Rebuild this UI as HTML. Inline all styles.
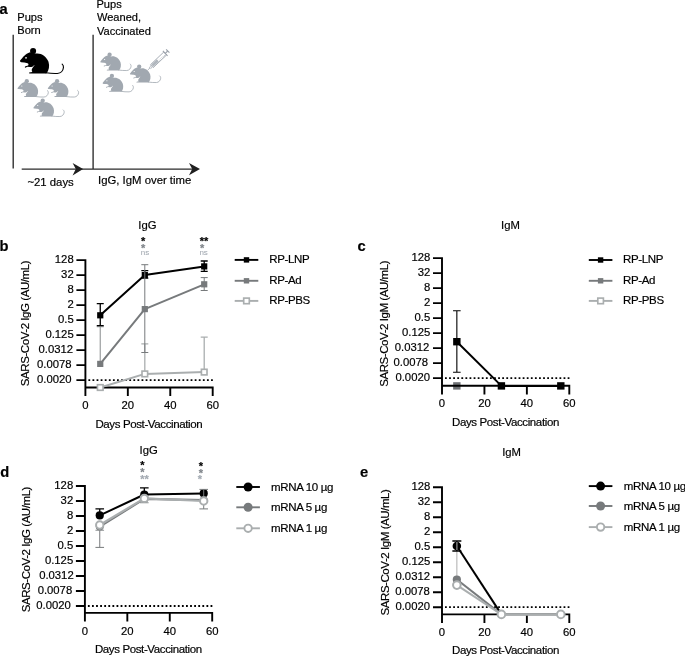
<!DOCTYPE html>
<html lang="en"><head><meta charset="utf-8"><title>Figure</title>
<style>html,body{margin:0;padding:0;background:#fff}svg{display:block;font-family:"Liberation Sans",Arial,Helvetica,sans-serif}text{stroke:#000;stroke-width:.18px}</style>
</head><body>
<svg width="685" height="657" viewBox="0 0 685 657">
<rect width="685" height="657" fill="#fff"/>
<text x="-0.4" y="13.8" font-size="14.7" font-weight="bold">a</text>
<text x="17.3" y="20.8" font-size="11.1">Pups</text>
<text x="17.3" y="34.3" font-size="11.1">Born</text>
<text x="96.4" y="7.7" font-size="11.1">Pups</text>
<text x="96.9" y="21.4" font-size="11.1">Weaned,</text>
<text x="96.9" y="34.8" font-size="11.1">Vaccinated</text>
<g stroke="#2b2b2b" stroke-width="1.35" fill="none">
<path d="M13.2 34.8V168.4M93.1 34.8V169.1M21.7 169.1H192"/>
</g>
<path fill="#1f1f1f" d="M83.1 169.1L72.6 162.9L75.8 169.1L72.6 175.4ZM200 169.1L189 162.9L192.2 169.1L189 175.3Z"/>
<text x="27.4" y="185.7" font-size="11.35">~21 days</text>
<text x="98.0" y="183.7" font-size="11.35">IgG, IgM over time</text>
<defs><g id="mouse"><path d="M52 222C70 200 90 172 110 155C128 135 152 118 185 108L262 125C330 115 400 160 428 235C445 290 435 350 400 388L175 388L172 376C185 370 200 368 215 368C205 350 205 335 215 320C225 305 238 292 245 278L240 275C225 295 205 305 185 304L150 300C140 305 132 312 125 312C113 310 113 298 125 292L160 283L165 264C150 250 130 246 110 244L70 240C58 238 50 230 52 222Z"/><circle cx="225" cy="92" r="40"/><circle cx="132" cy="182" r="11" fill="#fff"/><path d="M395 379C440 386 500 390 545 388C590 385 620 350 625 310C627 290 620 275 608 265" fill="none" stroke-width="15" stroke-linecap="round" stroke="currentColor"/></g></defs>
<use href="#mouse" transform="translate(16,44) scale(0.07593)" fill="#000" color="#000"/>
<use href="#mouse" transform="translate(14.71,76.21) scale(0.0537)" fill="#a1a8b0" color="#a1a8b0"/>
<use href="#mouse" transform="translate(45.01,76.21) scale(0.0537)" fill="#a1a8b0" color="#a1a8b0"/>
<use href="#mouse" transform="translate(30.61,95.71) scale(0.0537)" fill="#a1a8b0" color="#a1a8b0"/>
<use href="#mouse" transform="translate(97.51,49.71) scale(0.0537)" fill="#a1a8b0" color="#a1a8b0"/>
<use href="#mouse" transform="translate(99.81,71.01) scale(0.0537)" fill="#a1a8b0" color="#a1a8b0"/>
<use href="#mouse" transform="translate(127.11,61.71) scale(0.0537)" fill="#a1a8b0" color="#a1a8b0"/>
<g transform="translate(147.7,70.1) rotate(-43.6)" stroke="#9aa1aa" fill="none" stroke-width="0.7">
<path d="M0 0H5.8"/>
<rect x="3.3" y="-0.9" width="2.5" height="1.8" fill="#fff"/>
<rect x="5.8" y="-2" width="18.4" height="4" fill="#fff" stroke-width="0.8"/>
<rect x="6.4" y="-1.5" width="7.6" height="3" fill="#b0b6bd" stroke="none"/>
<path d="M15.5 2V0.4M17.2 2V0.4M18.9 2V0.4M20.6 2V0.4M22.3 2V0.4" stroke-width="0.55"/>
<path d="M24.2 -3.4V3.4M27.7 -2.4V2.4" stroke-width="1.1"/>
<path d="M24.2 0H27.7" stroke-width="1.1"/>
</g>
<text x="-0.6" y="250.5" font-size="14.7" font-weight="bold">b</text>
<text x="147.45" y="229.0" font-size="11.3" text-anchor="middle">IgG</text>
<text transform="translate(29.3,323.3) rotate(-90)" x="-62.85" y="0.00" font-size="11.5" textLength="125.70" lengthAdjust="spacing">SARS-CoV-2 IgG (AU/mL)</text>
<text x="73.7" y="263.35" font-size="11.3" text-anchor="end">128</text>
<text x="73.7" y="278.35" font-size="11.3" text-anchor="end">32</text>
<text x="73.7" y="293.35" font-size="11.3" text-anchor="end">8</text>
<text x="73.7" y="308.35" font-size="11.3" text-anchor="end">2</text>
<text x="73.7" y="323.35" font-size="11.3" text-anchor="end">0.5</text>
<text x="73.7" y="338.35" font-size="11.3" text-anchor="end">0.125</text>
<text x="73.1" y="353.35" font-size="11.3" text-anchor="end">0.0312</text>
<text x="71.6" y="368.35" font-size="11.3" text-anchor="end">0.0078</text>
<text x="71.6" y="383.35" font-size="11.3" text-anchor="end">0.0020</text>
<text x="85.4" y="409.0" font-size="11.3" text-anchor="middle">0</text>
<text x="127.83" y="409.0" font-size="11.3" text-anchor="middle">20</text>
<text x="170.27" y="409.0" font-size="11.3" text-anchor="middle">40</text>
<text x="212.7" y="409.0" font-size="11.3" text-anchor="middle">60</text>
<text x="95.38" y="427.90" font-size="11.5" textLength="107.34" lengthAdjust="spacing">Days Post-Vaccination</text>
<g stroke="#000" stroke-width="1.9" fill="none">
<path d="M85.4 259.15V388.45M84.45 387.5H213.65M76.40 260.10H85.4M76.40 275.10H85.4M76.40 290.10H85.4M76.40 305.10H85.4M76.40 320.10H85.4M76.40 335.10H85.4M76.40 350.10H85.4M76.40 365.10H85.4M76.40 380.10H85.4M85.40 387.5V396.10M127.83 387.5V396.10M170.27 387.5V396.10M212.70 387.5V396.10"/>
</g>
<path d="M88.40 380.10H213.60" stroke="#000" stroke-width="1.8" stroke-dasharray="1.8 2.288" fill="none"/>
<path d="M144.81 343.80V373.90M141.31 343.80H148.31" stroke="#aaaeaf" stroke-width="1.3" fill="none"/>
<path d="M204.21 337.10V372.10M200.71 337.10H207.71" stroke="#aaaeaf" stroke-width="1.3" fill="none"/>
<path d="M100.25 387.50L144.81 373.90L204.21 372.10" stroke="#aaaeaf" stroke-width="2.0" fill="none" stroke-linejoin="round"/>
<path d="M100.25 326.70V363.90M96.75 326.70H103.75" stroke="#9b9e9f" stroke-width="1.2" fill="none"/>
<path d="M204.21 277.60V290.50M200.71 277.60H207.71M200.71 290.50H207.71" stroke="#777a7c" stroke-width="1.0" fill="none"/>
<path d="M100.25 363.90L144.81 309.10L204.21 284.30" stroke="#777a7c" stroke-width="2.0" fill="none" stroke-linejoin="round"/>
<rect x="97.15" y="360.80" width="6.2" height="6.2" fill="#777a7c"/>
<rect x="141.71" y="306.00" width="6.2" height="6.2" fill="#777a7c"/>
<rect x="201.11" y="281.20" width="6.2" height="6.2" fill="#777a7c"/>
<path d="M100.25 303.60V325.70M96.75 303.60H103.75M96.75 325.70H103.75" stroke="#000" stroke-width="1.3" fill="none"/>
<path d="M144.81 270.60V278.20M141.31 270.60H148.31M141.31 278.20H148.31" stroke="#000" stroke-width="1.3" fill="none"/>
<path d="M204.21 261.00V271.40M200.71 261.00H207.71M200.71 271.40H207.71" stroke="#000" stroke-width="1.3" fill="none"/>
<path d="M100.25 315.30L144.81 275.10L204.21 266.40" stroke="#000" stroke-width="2.0" fill="none" stroke-linejoin="round"/>
<rect x="97.15" y="312.20" width="6.2" height="6.2" fill="#000"/>
<rect x="141.71" y="272.00" width="6.2" height="6.2" fill="#000"/>
<rect x="201.11" y="263.30" width="6.2" height="6.2" fill="#000"/>
<path d="M144.81 264.70V352.50M141.31 264.70H148.31M141.31 352.50H148.31" stroke="#777a7c" stroke-width="1.0" fill="none"/>
<rect x="97.45" y="384.70" width="5.6" height="5.6" fill="#fff" stroke="#aaaeaf" stroke-width="1.65"/>
<rect x="142.01" y="371.10" width="5.6" height="5.6" fill="#fff" stroke="#aaaeaf" stroke-width="1.65"/>
<rect x="201.41" y="369.30" width="5.6" height="5.6" fill="#fff" stroke="#aaaeaf" stroke-width="1.65"/>
<text x="141.1" y="244.8" font-size="11" font-weight="bold">*</text>
<text x="141.1" y="252.4" font-size="11" font-weight="bold" fill="#7f848a" style="stroke:#7f848a">*</text>
<text x="140.7" y="255.0" font-size="8" fill="#a3aab2" style="stroke:#a3aab2;stroke-width:0.05px">ns</text>
<text x="199.8" y="244.8" font-size="11" font-weight="bold">**</text>
<text x="200.0" y="252.4" font-size="11" font-weight="bold" fill="#7f848a" style="stroke:#7f848a">*</text>
<text x="199.4" y="255.0" font-size="8" fill="#a3aab2" style="stroke:#a3aab2;stroke-width:0.05px">ns</text>
<path d="M234.7 259.9H258.3" stroke="#000" stroke-width="1.9"/>
<rect x="243.80" y="257.20" width="5.4" height="5.4" fill="#000"/>
<text x="269.30" y="263.20" font-size="11.5" textLength="40.34" lengthAdjust="spacing">RP-LNP</text>
<path d="M234.7 280.8H258.3" stroke="#777a7c" stroke-width="1.9"/>
<rect x="243.80" y="278.10" width="5.4" height="5.4" fill="#777a7c"/>
<text x="269.30" y="284.10" font-size="11.5" textLength="32.40" lengthAdjust="spacing">RP-Ad</text>
<path d="M234.7 300.9H258.3" stroke="#aaaeaf" stroke-width="1.9"/>
<rect x="243.70" y="298.10" width="5.6" height="5.6" fill="#fff" stroke="#aaaeaf" stroke-width="1.65"/>
<text x="269.30" y="304.30" font-size="11.5" textLength="40.95" lengthAdjust="spacing">RP-PBS</text>
<text x="357.5" y="250.5" font-size="14.7" font-weight="bold">c</text>
<text x="510.5" y="228.8" font-size="11.3" text-anchor="middle">IgM</text>
<text transform="translate(387.5,323.6) rotate(-90)" x="-63.14" y="0.00" font-size="11.5" textLength="126.28" lengthAdjust="spacing">SARS-CoV-2 IgM (AU/mL)</text>
<text x="430.3" y="261.4" font-size="11.3" text-anchor="end">128</text>
<text x="430.3" y="276.4" font-size="11.3" text-anchor="end">32</text>
<text x="430.3" y="291.4" font-size="11.3" text-anchor="end">8</text>
<text x="430.3" y="306.4" font-size="11.3" text-anchor="end">2</text>
<text x="430.3" y="321.4" font-size="11.3" text-anchor="end">0.5</text>
<text x="430.3" y="336.4" font-size="11.3" text-anchor="end">0.125</text>
<text x="429.4" y="351.4" font-size="11.3" text-anchor="end">0.0312</text>
<text x="428.1" y="366.4" font-size="11.3" text-anchor="end">0.0078</text>
<text x="430.0" y="381.4" font-size="11.3" text-anchor="end">0.0020</text>
<text x="442.0" y="406.9" font-size="11.3" text-anchor="middle">0</text>
<text x="484.43" y="406.9" font-size="11.3" text-anchor="middle">20</text>
<text x="526.87" y="406.9" font-size="11.3" text-anchor="middle">40</text>
<text x="569.3" y="406.9" font-size="11.3" text-anchor="middle">60</text>
<text x="451.98" y="426.30" font-size="11.5" textLength="107.34" lengthAdjust="spacing">Days Post-Vaccination</text>
<rect x="453.15" y="382.20" width="7.4" height="7.4" fill="#6e7174"/>
<path d="M456.85 310.80V372.30M453.05 310.80H460.65M453.05 372.30H460.65" stroke="#000" stroke-width="1.1" fill="none"/>
<path d="M456.85 341.70L501.41 385.90L560.81 385.90" stroke="#000" stroke-width="2.0" fill="none" stroke-linejoin="round"/>
<rect x="453.15" y="338.00" width="7.4" height="7.4" fill="#000"/>
<rect x="497.71" y="382.20" width="7.4" height="7.4" fill="#000"/>
<rect x="557.11" y="382.20" width="7.4" height="7.4" fill="#000"/>
<path d="M445.00 378.15H570.20" stroke="#000" stroke-width="1.8" stroke-dasharray="1.8 2.288" fill="none"/>
<g stroke="#000" stroke-width="1.9" fill="none">
<path d="M442.0 257.20V386.75M441.05 385.8H570.25M433.00 258.15H442.0M433.00 273.15H442.0M433.00 288.15H442.0M433.00 303.15H442.0M433.00 318.15H442.0M433.00 333.15H442.0M433.00 348.15H442.0M433.00 363.15H442.0M433.00 378.15H442.0M442.00 385.8V394.40M484.43 385.8V394.40M526.87 385.8V394.40M569.30 385.8V394.40"/>
</g>
<path d="M588.8 260.0H612.4" stroke="#000" stroke-width="1.9"/>
<rect x="597.90" y="257.30" width="5.4" height="5.4" fill="#000"/>
<text x="623.10" y="263.20" font-size="11.5" textLength="40.34" lengthAdjust="spacing">RP-LNP</text>
<path d="M588.8 280.8H612.4" stroke="#777a7c" stroke-width="1.9"/>
<rect x="597.90" y="278.10" width="5.4" height="5.4" fill="#777a7c"/>
<text x="623.10" y="284.10" font-size="11.5" textLength="32.40" lengthAdjust="spacing">RP-Ad</text>
<path d="M588.8 300.9H612.4" stroke="#aaaeaf" stroke-width="1.9"/>
<rect x="597.80" y="298.10" width="5.6" height="5.6" fill="#fff" stroke="#aaaeaf" stroke-width="1.65"/>
<text x="623.10" y="304.30" font-size="11.5" textLength="40.95" lengthAdjust="spacing">RP-PBS</text>
<text x="0.2" y="476.7" font-size="14.7" font-weight="bold">d</text>
<text x="148.7" y="453.6" font-size="11.3" text-anchor="middle">IgG</text>
<text transform="translate(29.8,549.4) rotate(-90)" x="-62.85" y="0.00" font-size="11.5" textLength="125.70" lengthAdjust="spacing">SARS-CoV-2 IgG (AU/mL)</text>
<text x="73.2" y="489.25" font-size="11.3" text-anchor="end">128</text>
<text x="73.2" y="504.25" font-size="11.3" text-anchor="end">32</text>
<text x="73.2" y="519.25" font-size="11.3" text-anchor="end">8</text>
<text x="73.2" y="534.25" font-size="11.3" text-anchor="end">2</text>
<text x="73.2" y="549.25" font-size="11.3" text-anchor="end">0.5</text>
<text x="73.2" y="564.25" font-size="11.3" text-anchor="end">0.125</text>
<text x="73.7" y="579.25" font-size="11.3" text-anchor="end">0.0312</text>
<text x="72.2" y="594.25" font-size="11.3" text-anchor="end">0.0078</text>
<text x="70.9" y="609.25" font-size="11.3" text-anchor="end">0.0020</text>
<text x="84.9" y="634.8" font-size="11.3" text-anchor="middle">0</text>
<text x="127.33" y="634.8" font-size="11.3" text-anchor="middle">20</text>
<text x="169.77" y="634.8" font-size="11.3" text-anchor="middle">40</text>
<text x="212.2" y="634.8" font-size="11.3" text-anchor="middle">60</text>
<text x="94.88" y="653.20" font-size="11.5" textLength="107.34" lengthAdjust="spacing">Days Post-Vaccination</text>
<g stroke="#000" stroke-width="1.9" fill="none">
<path d="M84.9 485.05V613.85M83.95 612.9H213.15M75.90 486.00H84.9M75.90 501.00H84.9M75.90 516.00H84.9M75.90 531.00H84.9M75.90 546.00H84.9M75.90 561.00H84.9M75.90 576.00H84.9M75.90 591.00H84.9M75.90 606.00H84.9M84.90 612.9V621.50M127.33 612.9V621.50M169.77 612.9V621.50M212.20 612.9V621.50"/>
</g>
<path d="M87.90 606.00H213.10" stroke="#000" stroke-width="1.8" stroke-dasharray="1.8 2.288" fill="none"/>
<path d="M99.75 508.80V515.40M95.45 508.80H104.05" stroke="#000" stroke-width="1.3" fill="none"/>
<path d="M144.31 487.90V494.50M140.01 487.90H148.61" stroke="#000" stroke-width="1.3" fill="none"/>
<path d="M99.75 515.40L144.31 494.50L203.71 493.40" stroke="#000" stroke-width="2.0" fill="none" stroke-linejoin="round"/>
<circle cx="99.75" cy="515.40" r="4.1" fill="#000"/>
<circle cx="144.31" cy="494.50" r="4.1" fill="#000"/>
<circle cx="203.71" cy="493.40" r="4.1" fill="#000"/>
<path d="M99.75 526.00V547.40M95.45 547.40H104.05" stroke="#777a7c" stroke-width="1.0" fill="none"/>
<path d="M203.71 489.40V508.90M199.41 489.40H208.01M199.41 508.90H208.01" stroke="#777a7c" stroke-width="1.0" fill="none"/>
<path d="M99.75 526.60L144.31 498.90L203.71 500.20" stroke="#777a7c" stroke-width="2.2" fill="none" stroke-linejoin="round"/>
<circle cx="99.75" cy="526.60" r="4.0" fill="#777a7c"/>
<circle cx="144.31" cy="498.90" r="4.0" fill="#777a7c"/>
<circle cx="203.71" cy="500.20" r="4.0" fill="#777a7c"/>
<path d="M99.75 525.00V530.20M95.45 530.20H104.05" stroke="#8c9091" stroke-width="1.1" fill="none"/>
<path d="M144.31 498.00V502.80M140.01 502.80H148.61" stroke="#8c9091" stroke-width="1.1" fill="none"/>
<path d="M99.75 525.00L144.31 498.40L203.71 501.00" stroke="#aaaeaf" stroke-width="2.2" fill="none" stroke-linejoin="round"/>
<circle cx="99.75" cy="525.00" r="3.7" fill="#fff" stroke="#aaaeaf" stroke-width="2.0"/>
<circle cx="144.31" cy="498.40" r="3.7" fill="#fff" stroke="#aaaeaf" stroke-width="2.0"/>
<circle cx="203.71" cy="501.00" r="3.7" fill="#fff" stroke="#aaaeaf" stroke-width="2.0"/>
<text x="140.3" y="469.0" font-size="11" font-weight="bold">*</text>
<text x="140.3" y="476.0" font-size="11" font-weight="bold" fill="#7f848a" style="stroke:#7f848a">*</text>
<text x="140.3" y="482.5" font-size="11" font-weight="bold" fill="#a3aab2" style="stroke:#a3aab2">**</text>
<text x="198.8" y="469.6" font-size="11" font-weight="bold">*</text>
<text x="198.8" y="476.5" font-size="11" font-weight="bold" fill="#7f848a" style="stroke:#7f848a">*</text>
<text x="197.7" y="482.6" font-size="11" font-weight="bold" fill="#a3aab2" style="stroke:#a3aab2">*</text>
<path d="M236.3 487.0H259.9" stroke="#000" stroke-width="1.9"/>
<circle cx="248.10" cy="487.00" r="4.5" fill="#000"/>
<text x="271.00" y="490.70" font-size="11.5" textLength="62.33" lengthAdjust="spacing">mRNA 10 µg</text>
<path d="M236.3 507.3H259.9" stroke="#777a7c" stroke-width="1.9"/>
<circle cx="248.10" cy="507.30" r="4.5" fill="#777a7c"/>
<text x="271.00" y="510.80" font-size="11.5" textLength="56.29" lengthAdjust="spacing">mRNA 5 µg</text>
<path d="M236.3 528.3H259.9" stroke="#aaaeaf" stroke-width="1.9"/>
<circle cx="248.10" cy="528.30" r="3.7" fill="#fff" stroke="#aaaeaf" stroke-width="1.9"/>
<text x="271.00" y="531.80" font-size="11.5" textLength="56.29" lengthAdjust="spacing">mRNA 1 µg</text>
<text x="360.0" y="476.8" font-size="14.7" font-weight="bold">e</text>
<text x="511.6" y="455.6" font-size="11.3" text-anchor="middle">IgM</text>
<text transform="translate(388.6,552.3) rotate(-90)" x="-63.14" y="0.00" font-size="11.5" textLength="126.28" lengthAdjust="spacing">SARS-CoV-2 IgM (AU/mL)</text>
<text x="430.3" y="490.45" font-size="11.3" text-anchor="end">128</text>
<text x="430.3" y="505.45" font-size="11.3" text-anchor="end">32</text>
<text x="430.3" y="520.45" font-size="11.3" text-anchor="end">8</text>
<text x="430.3" y="535.45" font-size="11.3" text-anchor="end">2</text>
<text x="430.3" y="550.45" font-size="11.3" text-anchor="end">0.5</text>
<text x="430.3" y="565.45" font-size="11.3" text-anchor="end">0.125</text>
<text x="430.0" y="580.45" font-size="11.3" text-anchor="end">0.0312</text>
<text x="429.9" y="595.45" font-size="11.3" text-anchor="end">0.0078</text>
<text x="430.0" y="610.45" font-size="11.3" text-anchor="end">0.0020</text>
<text x="442.0" y="635.6" font-size="11.3" text-anchor="middle">0</text>
<text x="484.43" y="635.6" font-size="11.3" text-anchor="middle">20</text>
<text x="526.87" y="635.6" font-size="11.3" text-anchor="middle">40</text>
<text x="569.3" y="635.6" font-size="11.3" text-anchor="middle">60</text>
<text x="451.98" y="654.40" font-size="11.5" textLength="107.34" lengthAdjust="spacing">Days Post-Vaccination</text>
<g stroke="#000" stroke-width="1.9" fill="none">
<path d="M442.0 486.25V615.35M441.05 614.4H570.25M433.00 487.20H442.0M433.00 502.20H442.0M433.00 517.20H442.0M433.00 532.20H442.0M433.00 547.20H442.0M433.00 562.20H442.0M433.00 577.20H442.0M433.00 592.20H442.0M433.00 607.20H442.0M442.00 614.4V623.00M484.43 614.4V623.00M526.87 614.4V623.00M569.30 614.4V623.00"/>
</g>
<path d="M445.00 607.20H570.20" stroke="#000" stroke-width="1.8" stroke-dasharray="1.8 2.288" fill="none"/>
<path d="M456.85 546.00L501.41 614.40" stroke="#000" stroke-width="2.0" fill="none" stroke-linejoin="round"/>
<circle cx="456.85" cy="546.00" r="4.3" fill="#000"/>
<path d="M456.85 541.30V580.00" stroke="#b5b5b5" stroke-width="1.1" fill="none"/>
<path d="M456.85 541.00V551.00M452.35 541.00H461.35M452.35 551.00H461.35" stroke="#000" stroke-width="1.3" fill="none"/>
<path d="M456.85 542V550" stroke="#8a8a8a" stroke-width="1.1"/>
<path d="M456.85 579.50L501.41 614.40" stroke="#777a7c" stroke-width="2.0" fill="none" stroke-linejoin="round"/>
<circle cx="456.85" cy="579.50" r="4.1" fill="#777a7c"/>
<path d="M456.85 585.10L501.41 614.40" stroke="#aaaeaf" stroke-width="2.0" fill="none" stroke-linejoin="round"/>
<path d="M501.41 614.40L560.81 614.40" stroke="#aaaeaf" stroke-width="2.5" fill="none" stroke-linejoin="round"/>
<circle cx="456.85" cy="585.10" r="3.8" fill="#fff" stroke="#aaaeaf" stroke-width="2.0"/>
<circle cx="501.41" cy="614.40" r="3.8" fill="#fff" stroke="#aaaeaf" stroke-width="2.0"/>
<circle cx="560.81" cy="614.40" r="3.8" fill="#fff" stroke="#aaaeaf" stroke-width="2.0"/>
<path d="M588.8 486.1H612.4" stroke="#000" stroke-width="1.9"/>
<circle cx="600.60" cy="486.10" r="4.5" fill="#000"/>
<text x="623.80" y="489.90" font-size="11.5" textLength="62.33" lengthAdjust="spacing">mRNA 10 µg</text>
<path d="M588.8 506.0H612.4" stroke="#777a7c" stroke-width="1.9"/>
<circle cx="600.60" cy="506.00" r="4.5" fill="#777a7c"/>
<text x="623.80" y="510.10" font-size="11.5" textLength="56.29" lengthAdjust="spacing">mRNA 5 µg</text>
<path d="M588.8 527.1H612.4" stroke="#aaaeaf" stroke-width="1.9"/>
<circle cx="600.60" cy="527.10" r="3.7" fill="#fff" stroke="#aaaeaf" stroke-width="1.9"/>
<text x="623.80" y="531.10" font-size="11.5" textLength="56.29" lengthAdjust="spacing">mRNA 1 µg</text>
</svg>
</body></html>
